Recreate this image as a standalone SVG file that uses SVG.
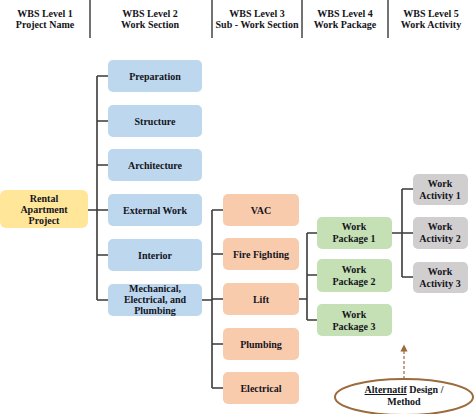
<svg xmlns="http://www.w3.org/2000/svg" width="474" height="414" viewBox="0 0 474 414" font-family="'Liberation Serif','Times New Roman',serif">
<style>
text{font-family:"Liberation Serif","Times New Roman",serif;font-weight:bold;font-size:10px;fill:#141420;text-anchor:middle}
.hd line{stroke:#444;stroke-width:1.5}
.c{fill:none;stroke:#3a3a3a;stroke-width:1.6}
.b{fill:#BDD7EE}.o{fill:#F8CBAD}.g{fill:#C5E0B4}.y{fill:#FFE699}.r{fill:#D0CECE}
</style>
<defs>
<marker id="ah" markerWidth="6" markerHeight="6" refX="3" refY="3" orient="auto"><path d="M0,0 L6,3 L0,6 Z" fill="#9C6B3C"/></marker>
</defs>
<g id="header" class="hd">
<line x1="90" y1="0" x2="90" y2="38"/><line x1="212" y1="0" x2="212" y2="38"/><line x1="302" y1="0" x2="302" y2="38"/><line x1="388" y1="0" x2="388" y2="38"/>
<text x="45" y="17">WBS Level 1</text><text x="45" y="28">Project Name</text>
<text x="150" y="17">WBS Level 2</text><text x="150" y="28">Work Section</text>
<text x="257" y="17">WBS Level 3</text><text x="257" y="28">Sub - Work Section</text>
<text x="345" y="17">WBS Level 4</text><text x="345" y="28">Work Package</text>
<text x="431" y="17">WBS Level 5</text><text x="431" y="28">Work Activity</text>
</g>
<g id="connectors" class="c">
<path d="M88,210 H97 M97,76 V300 M97,76 H108 M97,121 H108 M97,165 H108 M97,210 H108 M97,255 H108 M97,300 H108"/>
<path d="M202,300 H212 M212,210 V388 M212,210 H223 M212,254 H223 M212,299 H223 M212,344 H223 M212,388 H223"/>
<path d="M299,299 H307 M307,233 V320 M307,233 H317 M307,275 H317 M307,320 H317"/>
<path d="M392,233 H402 M402,189 V277 M402,189 H413 M402,233 H413 M402,277 H413"/>
<path d="M404,379 V348" stroke="#9C6B3C" stroke-width="1.2" stroke-dasharray="3,2" marker-end="url(#ah)"/>
</g>
<g id="n-rental"><rect class="y" x="0" y="190" width="88" height="38" rx="6"/><text x="44" y="202">Rental</text><text x="44" y="213">Apartment</text><text x="44" y="224">Project</text></g>
<g id="n-prep"><rect class="b" x="108" y="60" width="94" height="32" rx="5"/><text x="155" y="80">Preparation</text></g>
<g id="n-struct"><rect class="b" x="108" y="105" width="94" height="32" rx="5"/><text x="155" y="125">Structure</text></g>
<g id="n-arch"><rect class="b" x="108" y="149" width="94" height="32" rx="5"/><text x="155" y="169">Architecture</text></g>
<g id="n-ext"><rect class="b" x="108" y="194" width="94" height="32" rx="5"/><text x="155" y="214">External Work</text></g>
<g id="n-int"><rect class="b" x="108" y="239" width="94" height="32" rx="5"/><text x="155" y="259">Interior</text></g>
<g id="n-mep"><rect class="b" x="108" y="284" width="94" height="32" rx="5"/><text x="155" y="292">Mechanical,</text><text x="155" y="303">Electrical, and</text><text x="155" y="314">Plumbing</text></g>
<g id="n-vac"><rect class="o" x="223" y="194" width="76" height="32" rx="5"/><text x="261" y="214">VAC</text></g>
<g id="n-fire"><rect class="o" x="223" y="238" width="76" height="32" rx="5"/><text x="261" y="258">Fire Fighting</text></g>
<g id="n-lift"><rect class="o" x="223" y="283" width="76" height="32" rx="5"/><text x="261" y="303">Lift</text></g>
<g id="n-plumb"><rect class="o" x="223" y="328" width="76" height="32" rx="5"/><text x="261" y="348">Plumbing</text></g>
<g id="n-elec"><rect class="o" x="223" y="372" width="76" height="32" rx="5"/><text x="261" y="392">Electrical</text></g>
<g id="n-wp1"><rect class="g" x="317" y="217" width="75" height="32" rx="5"/><text x="354" y="230">Work</text><text x="354" y="242">Package 1</text></g>
<g id="n-wp2"><rect class="g" x="317" y="259" width="75" height="33" rx="5"/><text x="354" y="273">Work</text><text x="354" y="285">Package 2</text></g>
<g id="n-wp3"><rect class="g" x="317" y="304" width="75" height="32" rx="5"/><text x="354" y="318">Work</text><text x="354" y="330">Package 3</text></g>
<g id="n-wa1"><rect class="r" x="413" y="174" width="55" height="31" rx="5"/><text x="440" y="187">Work</text><text x="440" y="199">Activity 1</text></g>
<g id="n-wa2"><rect class="r" x="413" y="217" width="55" height="32" rx="5"/><text x="440" y="230">Work</text><text x="440" y="242">Activity 2</text></g>
<g id="n-wa3"><rect class="r" x="413" y="262" width="55" height="31" rx="5"/><text x="440" y="275">Work</text><text x="440" y="287">Activity 3</text></g>
<g id="n-alt"><ellipse cx="404" cy="397" rx="69" ry="18" fill="#fff" stroke="#9C6B3C" stroke-width="2"/><text x="404" y="393"><tspan text-decoration="underline">Alternatif</tspan> Design /</text><text x="404" y="405">Method</text></g>
</svg>
